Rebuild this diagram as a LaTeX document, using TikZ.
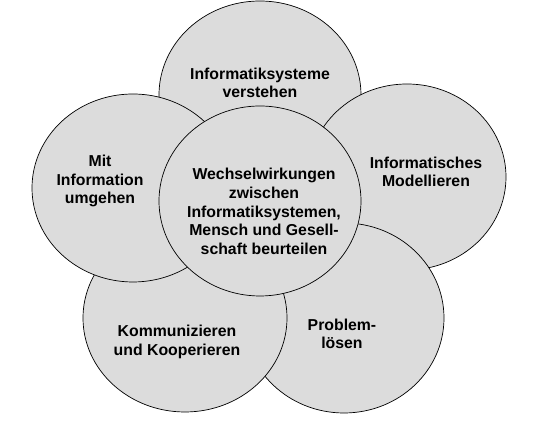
\documentclass[tikz,border=0pt]{standalone}
\usepackage{fontspec}
\setmainfont{Liberation Sans}

\definecolor{bubblegray}{RGB}{220,220,220}

\begin{document}
\begin{tikzpicture}[
  scale=0.02,
  bubble/.style={draw=black, thin, fill=bubblegray},
  lbl/.style={align=center, inner sep=0pt,
    font=\bfseries\fontsize{9}{10.6}\selectfont},
]

\useasboundingbox (0,0) rectangle (554,433);

\draw [bubble] (260,338) ellipse [x radius=101, y radius=94];
\draw [bubble] (407,256) ellipse [x radius=99, y radius=93];
\draw [bubble] (344,115) ellipse [x radius=100, y radius=95];
\draw [bubble] (185,115) ellipse [x radius=102, y radius=94];
\draw [bubble] (133,245) ellipse [x radius=101, y radius=94];
\draw [bubble] (260,232) ellipse [x radius=101, y radius=95];

\node [lbl] (verstehen) at (260,350) {Informatiksysteme\\verstehen};
\node [lbl] (modellieren) at (426,261) {Informatisches\\Modellieren};
\node [lbl] (problem) at (342,99) {Problem-\\lösen};
\node [lbl] (kommunizieren) at (177,91) {Kommunizieren\\und Kooperieren};
\node [lbl] (umgehen) at (100,252) {Mit\\Information\\umgehen};
\node [lbl] (wechsel) at (264,221.5) {Wechselwirkungen\\zwischen\\Informatiksystemen,\\Mensch und Gesell-\\schaft beurteilen};

\end{tikzpicture}
\end{document}
